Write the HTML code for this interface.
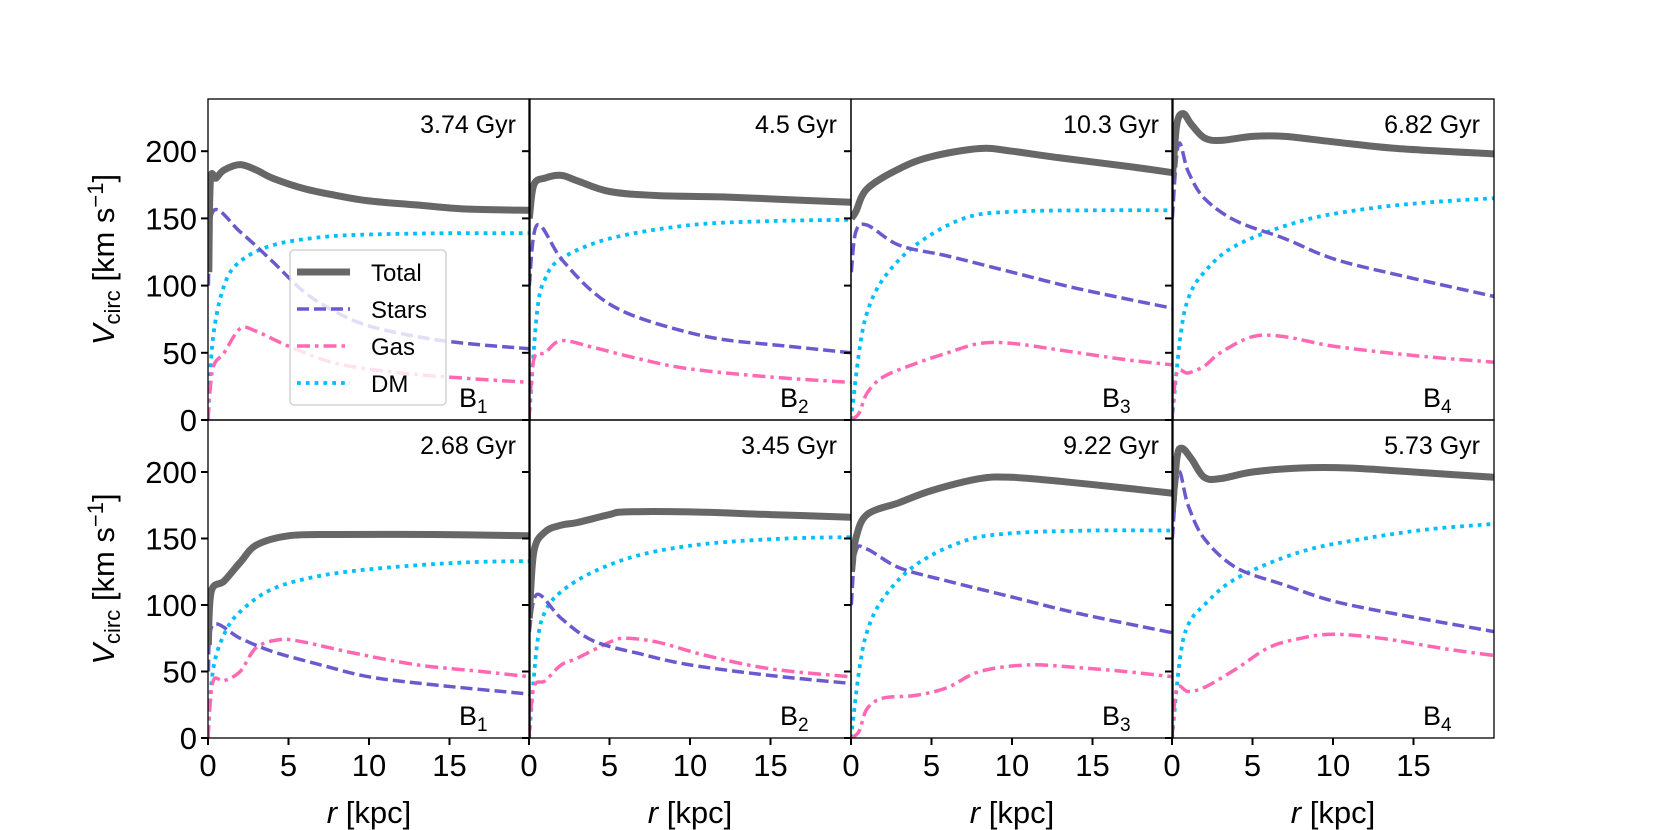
<!DOCTYPE html>
<html><head><meta charset="utf-8"><style>
html,body{margin:0;padding:0;background:#fff;}
svg{display:block;font-family:"Liberation Sans","DejaVu Sans",sans-serif;}
</style></head><body>
<svg id="s" width="1661" height="830" viewBox="0 0 1661 830" xmlns="http://www.w3.org/2000/svg">
<g id="curves"></g>
<g id="frames"></g>
</svg>
<script>
const NS="http://www.w3.org/2000/svg";
const s=document.getElementById('s'),cg=document.getElementById('curves'),fg=document.getElementById('frames');
function el(t,a,p,txt){const e=document.createElementNS(NS,t);for(const k in a)e.setAttribute(k,a[k]);if(txt!==undefined)e.textContent=txt;(p||s).appendChild(e);return e;}
const xs=[208,529,851,1172],W=322,sx=16.1;
const rows=[{top:99,bot:420,y0:420,sy:1.344},{top:420,bot:738,y0:738,sy:1.33}];
const P=[
[
{t:"3.74 Gyr",b:"1",
T:[[0.05,110],[0.15,178],[0.5,180],[1,186],[2,190],[3,186],[4,180],[6,172],[8,167],[10,163],[13,160],[16,157],[20,156]],
S:[[0.02,100],[0.3,155],[2,140],[4,118],[6,95],[8,80],[10,70],[13,62],[16,57],[20,53]],
G:[[0,0],[0.3,38],[1,50],[2,68],[3,66],[5,55],[8,42],[12,35],[16,31],[20,28]],
D:[[0,0],[0.3,60],[1,100],[2,118],[4,130],[7,136],[10,138],[15,139],[20,139]]},
{t:"4.5 Gyr",b:"2",
T:[[0.02,150],[0.3,175],[1,180],[2,182],[3,178],[5,170],[8,167],[12,166],[16,164],[20,162]],
S:[[0.02,100],[0.5,145],[2,120],[4,95],[6,80],[9,68],[12,60],[16,55],[20,50]],
G:[[0,0],[0.3,45],[1,50],[2,59],[4,54],[7,45],[10,38],[15,32],[20,28]],
D:[[0,0],[0.5,80],[1,105],[2,120],[5,135],[10,145],[15,148],[20,149]]},
{t:"10.3 Gyr",b:"3",
T:[[0.02,150],[0.3,155],[1,172],[3,187],[5,196],[8,202],[10,200],[13,195],[17,189],[20,184]],
S:[[0.02,110],[0.3,140],[1,145],[3,130],[6,122],[10,110],[14,98],[20,83]],
G:[[0,0],[0.5,5],[1,20],[2,32],[4,42],[6,50],[8,57],[10,57],[13,52],[17,45],[20,41]],
D:[[0,0],[0.5,50],[1,80],[2,105],[4,130],[7,150],[10,155],[15,156],[20,156]]},
{t:"6.82 Gyr",b:"4",
T:[[0.02,180],[0.3,220],[0.7,228],[1.2,220],[2,210],[3,208],[5,211],[7,211],[10,207],[14,202],[20,198]],
S:[[0.02,150],[0.4,205],[1,185],[2,165],[4,148],[7,135],[10,120],[14,108],[20,92]],
G:[[0,0],[0.3,35],[1,35],[2,40],[3,50],[5,62],[7,62],[10,55],[15,48],[20,43]],
D:[[0,0],[0.5,60],[1,90],[2,110],[4,130],[8,148],[12,157],[16,162],[20,165]]}
],[
{t:"2.68 Gyr",b:"1",
T:[[0.02,70],[0.2,110],[1,118],[2,132],[3,145],[5,152],[8,153],[14,153],[20,152]],
S:[[0.02,50],[0.3,85],[2,75],[4,65],[7,55],[10,46],[14,40],[20,33]],
G:[[0,0],[0.3,42],[1,43],[2,50],[3,68],[4.5,74],[6,72],[9,64],[13,55],[17,50],[20,46]],
D:[[0,0],[0.3,50],[1,78],[2,95],[4,112],[7,122],[11,128],[16,132],[20,133]]},
{t:"3.45 Gyr",b:"2",
T:[[0.02,90],[0.3,140],[1,155],[2,160],[3,162],[5,168],[6,170],[10,170],[15,168],[20,166]],
S:[[0.02,80],[0.5,108],[2,90],[4,73],[7,63],[10,55],[15,47],[20,41]],
G:[[0,0],[0.3,38],[1,43],[2,55],[3,60],[5,72],[6,75],[8,72],[11,62],[15,52],[20,46]],
D:[[0,0],[0.5,70],[1,95],[2,110],[4,125],[7,138],[11,146],[16,150],[20,151]]},
{t:"9.22 Gyr",b:"3",
T:[[0.02,125],[0.3,150],[1,168],[3,177],[5,186],[8,195],[10,196],[13,193],[17,188],[20,184]],
S:[[0.02,100],[0.3,140],[1,142],[3,128],[6,118],[10,106],[14,94],[20,79]],
G:[[0,0],[0.5,5],[1,22],[2,30],[4,32],[6,38],[8,50],[11,55],[14,53],[17,50],[20,46]],
D:[[0,0],[0.5,50],[1,80],[2,105],[4,130],[7,148],[10,154],[15,156],[20,156]]},
{t:"5.73 Gyr",b:"4",
T:[[0.02,170],[0.3,210],[0.6,218],[1.2,210],[2,196],[3,195],[5,200],[8,203],[11,203],[15,200],[20,196]],
S:[[0.02,150],[0.4,200],[1,175],[2,150],[4,128],[7,115],[10,103],[14,93],[20,80]],
G:[[0,0],[0.3,37],[1,35],[2,38],[4,52],[6,68],[8,75],[10,78],[13,75],[17,67],[20,62]],
D:[[0,0],[0.5,60],[1,85],[2,100],[4,120],[8,140],[12,150],[16,157],[20,161]]}
]];
function path(pts,X,Y){const p=pts.map(q=>[X(q[0]),Y(q[1])]);let d="M"+p[0][0].toFixed(1)+","+p[0][1].toFixed(1);
for(let i=0;i<p.length-1;i++){const a=p[i-1]||p[i],b=p[i],c=p[i+1],e=p[i+2]||c;
const c1=[b[0]+(c[0]-a[0])/6,b[1]+(c[1]-a[1])/6],c2=[c[0]-(e[0]-b[0])/6,c[1]-(e[1]-b[1])/6];
d+=" C"+c1.map(v=>v.toFixed(1))+" "+c2.map(v=>v.toFixed(1))+" "+c[0].toFixed(1)+","+c[1].toFixed(1);}return d;}
const styles={
T:{stroke:"#676767","stroke-width":7},
S:{stroke:"#6a5acd","stroke-width":3.5,"stroke-dasharray":"12,5"},
G:{stroke:"#ff69b4","stroke-width":3.5,"stroke-dasharray":"13,5,3.5,5"},
D:{stroke:"#00bfff","stroke-width":3.8,"stroke-dasharray":"3.8,5"}};
for(let r=0;r<2;r++){const R=rows[r];
 for(let c=0;c<4;c++){const x0=xs[c],pd=P[r][c];
  const X=v=>x0+v*sx,Y=v=>R.y0-v*R.sy;
  const cid="cp"+r+c;const cp=el("clipPath",{id:cid},cg);el("rect",{x:x0,y:R.top,width:W,height:R.bot-R.top},cp);
  const g=el("g",{"clip-path":"url(#"+cid+")"},cg);
  for(const k of ["D","G","S","T"]){const a=Object.assign({d:path(pd[k],X,Y),fill:"none","stroke-linejoin":"round"},styles[k]);el("path",a,g);}
  el("rect",{x:x0,y:R.top,width:W,height:R.bot-R.top,fill:"none",stroke:"#000","stroke-width":1.3},fg);
  for(let v=0;v<=200;v+=50){const y=Y(v);el("line",{x1:x0-7,x2:x0,y1:y,y2:y,stroke:"#000","stroke-width":2},fg);}
  el("text",{x:x0+W-14,y:R.top+34,"text-anchor":"end","font-size":25},fg,pd.t);
  const bt=el("text",{x:x0+251,y:R.bot-13,"font-size":27},fg,"B");
  el("tspan",{"font-size":19,dy:6},bt,pd.b);
  if(r==1){for(let v=0;v<=15;v+=5){const x=X(v);el("line",{x1:x,x2:x,y1:R.bot,y2:R.bot+7,stroke:"#000","stroke-width":2},fg);
     el("text",{x:x,y:R.bot+38,"text-anchor":"middle","font-size":31},fg,String(v));}
   const xl=el("text",{x:x0+W/2,y:823,"text-anchor":"middle","font-size":31},fg);
   el("tspan",{"font-style":"italic"},xl,"r");el("tspan",{},xl," [kpc]");}
 }
 for(let v=0;v<=200;v+=50){el("text",{x:197,y:R.y0-v*R.sy+11,"text-anchor":"end","font-size":31},fg,String(v));}
 const cy=(R.top+R.bot)/2;
 const yl=el("text",{transform:"translate(114,"+cy+") rotate(-90)","text-anchor":"middle","font-size":31},fg);
 el("tspan",{"font-style":"italic"},yl,"V");el("tspan",{"font-size":22,dy:6},yl,"circ");
 el("tspan",{dy:-6},yl," [km s");el("tspan",{"font-size":22,dy:-11},yl,"−1");el("tspan",{dy:11},yl,"]");
}
const L=el("g",{},fg);
el("rect",{x:290,y:250,width:156,height:155,rx:4,fill:"#fff","fill-opacity":0.8,stroke:"#ccc","stroke-width":1.3},L);
const items=[["T","Total"],["S","Stars"],["G","Gas"],["D","DM"]];
items.forEach((it,i)=>{const y=272+i*37;
 el("line",Object.assign({x1:297,x2:350,y1:y,y2:y},styles[it[0]]),L);
 el("text",{x:371,y:y+9,"font-size":24},L,it[1]);});
</script>
</body></html>
